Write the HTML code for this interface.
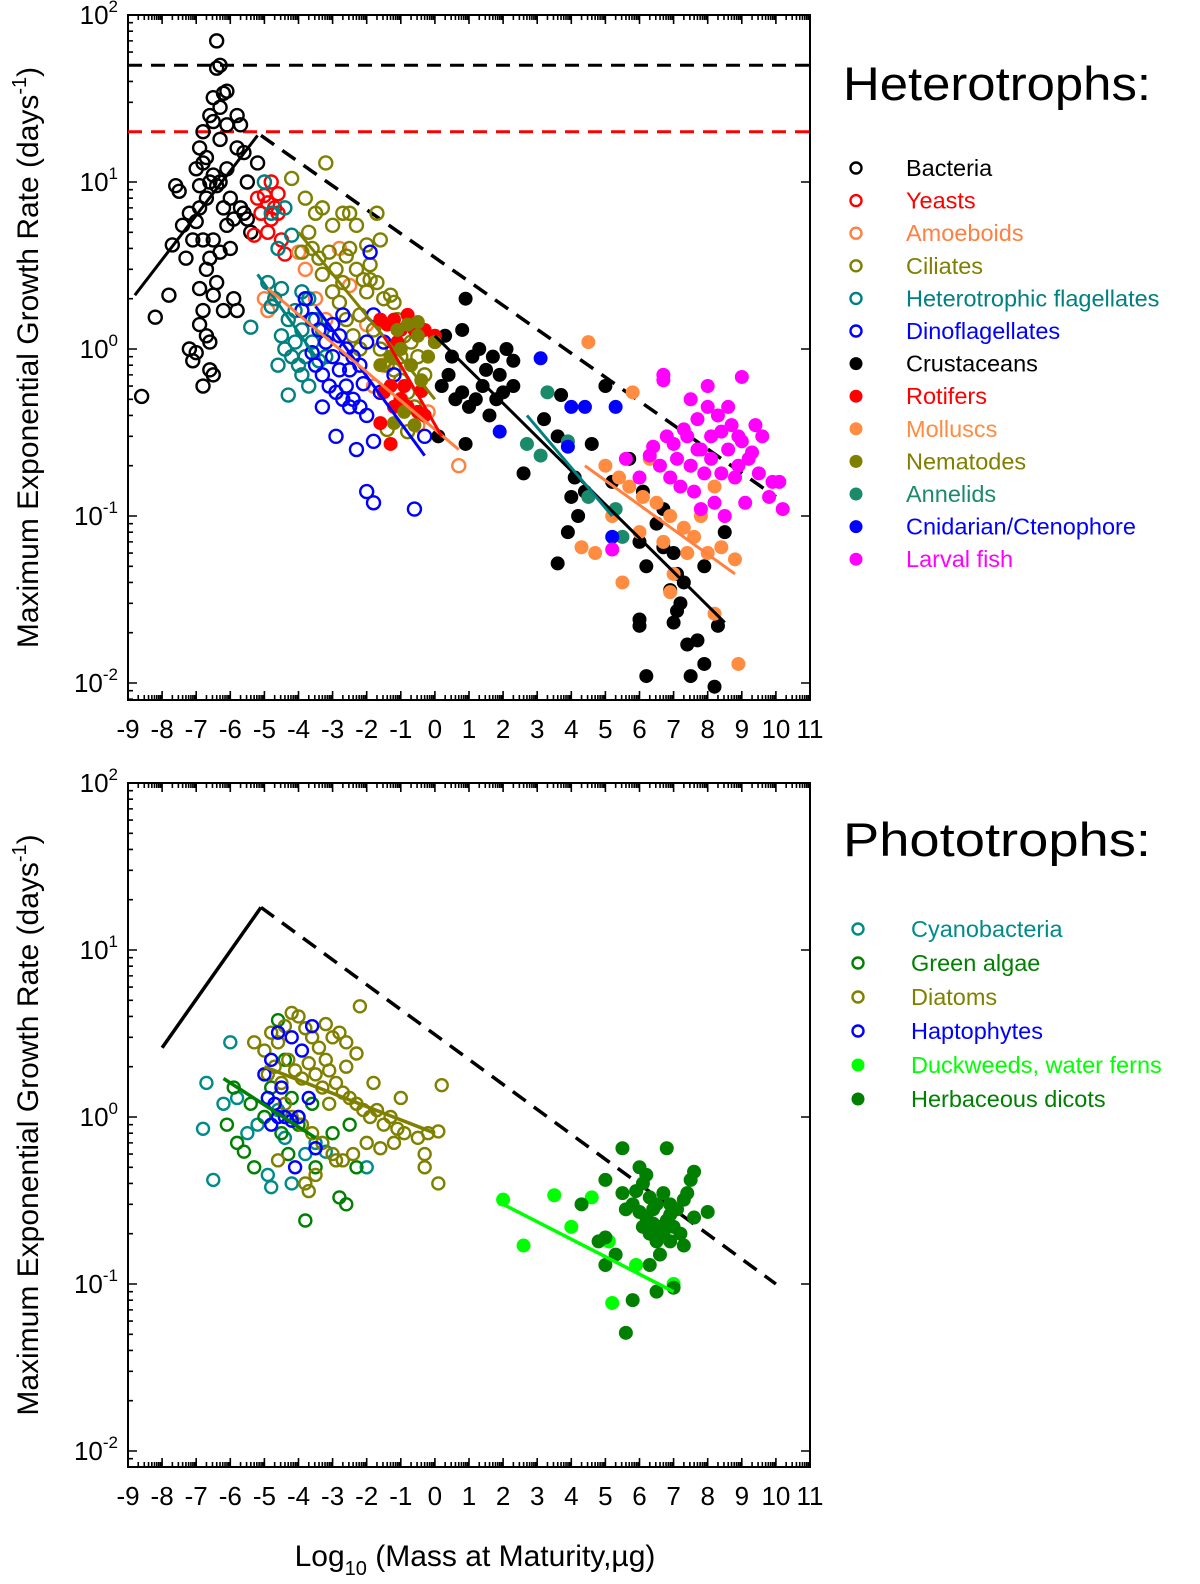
<!DOCTYPE html>
<html><head><meta charset="utf-8">
<style>
html,body{margin:0;padding:0;background:#fff;}
svg{display:block;font-family:"Liberation Sans",Arial,sans-serif;}
</style></head>
<body>
<svg id="chart" width="1200" height="1584" viewBox="0 0 1200 1584" xmlns="http://www.w3.org/2000/svg"></svg>
<script>
// ---------- DATA (log10 mass [µg], growth rate [day^-1]) ----------
const xTicks=[-9,-8,-7,-6,-5,-4,-3,-2,-1,0,1,2,3,4,5,6,7,8,9,10,11];
const yTickExps=[2,1,0,-1,-2];
const bacteria=[[-8.6,0.52],[-8.2,1.55],[-7.8,2.1],[-7.7,4.2],[-7.6,9.5],[-7.5,8.8],[-7.4,5.5],[-7.3,3.5],[-7.2,1.0],[-7.1,0.85],[-7.0,0.95],[-6.9,1.4],[-6.9,2.3],[-6.8,0.6],[-6.8,1.7],[-6.7,1.2],[-6.6,0.75],[-6.6,1.1],[-6.5,2.1],[-6.5,0.7],[-7.0,5.8],[-7.0,12],[-6.9,16],[-6.8,20],[-6.7,14],[-6.6,25],[-6.5,32],[-6.4,48],[-6.4,70],[-6.3,50],[-6.2,34],[-6.1,35],[-6.3,28],[-6.5,23],[-6.8,13],[-6.7,8],[-6.6,10],[-6.5,11],[-6.4,9.5],[-6.3,10],[-6.2,7],[-6.1,5.5],[-6.0,4],[-6.0,8],[-6.1,12],[-5.9,6],[-5.8,16],[-5.8,25],[-5.7,22],[-5.6,15],[-5.7,7],[-5.6,6.5],[-5.5,6],[-5.4,5],[-6.9,7],[-6.8,4.5],[-6.7,3],[-6.6,3.5],[-6.5,4.5],[-6.4,2.5],[-6.3,3.8],[-6.2,1.7],[-5.9,2],[-5.8,1.7],[-5.2,13],[-7.1,4.5],[-7.2,6.5],[-6.9,9.5],[-6.3,18],[-6.1,22],[-5.5,10]];
const yeasts=[[-5.2,8],[-5.0,8.3],[-4.9,7.5],[-4.8,6],[-4.8,10],[-4.7,7],[-4.6,6.5],[-5.1,6.5],[-4.9,5],[-5.3,4.8],[-4.5,4.5],[-4.6,8.5],[-4.4,3.7]];
const amoeboids=[[-5,2],[-4.9,1.7],[-4,3.8],[-3.5,2],[-2.5,2.4],[-2,1.4],[-1.5,0.8],[-1,0.5],[-0.5,0.35],[0.7,0.2],[-2.8,4],[-3.8,3],[-1.8,0.6],[-3.2,1.5],[-0.2,0.42]];
const ciliates=[[-4.2,10.5],[-3.2,13],[-3.8,8],[-3.5,6.5],[-3.3,7],[-3,5.5],[-2.7,6.5],[-2.5,6.5],[-2.3,5.5],[-1.7,6.5],[-3.6,4],[-3.4,3.5],[-3.1,3.8],[-2.9,3],[-2.7,2.5],[-2.5,4],[-2.3,3],[-2.1,2.6],[-1.9,3.2],[-1.7,2.5],[-1.5,2],[-1.3,2.1],[-1.1,1.5],[-0.9,1.2],[-0.7,1.1],[-0.5,0.9],[-0.3,0.7],[-2.8,1.9],[-2.6,1.5],[-2.4,1.2],[-2.2,1.6],[-2,2.2],[-1.8,1.3],[-1.6,1],[-1.4,0.8],[-1.2,0.75],[-1,0.65],[-0.8,0.55],[-0.6,0.45],[-3.0,2.2],[-3.3,2.8],[-2.0,4.2],[-1.6,4.5],[-1.2,1.9],[-0.8,0.32],[-1.4,0.33],[-1.9,2.6],[-2.2,1.0],[-3.7,5],[-3.9,3.8],[-2.6,3.6],[-1.0,0.9],[-0.4,1.3]];
const hetFlag=[[-5,10],[-4.8,6.5],[-4.6,4],[-4.4,7],[-4.2,4.8],[-5.4,1.35],[-4.9,2.5],[-4.7,2.0],[-4.5,1.2],[-4.3,1.5],[-4.1,1.1],[-3.9,1.3],[-4.2,0.9],[-4.0,0.8],[-3.8,0.9],[-3.6,1.1],[-3.4,0.85],[-4.4,1.0],[-4.6,0.8],[-3.9,0.7],[-3.7,0.6],[-4.3,0.53],[-3.5,1.5],[-3.3,1.3],[-4.8,1.8],[-3.7,2],[-4.1,1.7],[-3.2,0.9],[-4.5,2.3],[-3.9,2.2]];
const dinoflag=[[-3.8,2],[-3.6,1.5],[-3.4,1.3],[-3.2,1.1],[-3.0,0.9],[-2.8,0.75],[-2.6,0.6],[-2.4,0.5],[-2.2,0.45],[-2,0.4],[-3.5,0.8],[-3.3,0.7],[-3.1,0.6],[-2.9,0.55],[-2.7,0.5],[-2.5,0.45],[-3.0,1.4],[-2.8,1.2],[-2.6,1],[-2.4,0.9],[-2.2,0.8],[-2,1.1],[-1.8,1.6],[-1.9,3.8],[-1.5,1.1],[-1.2,0.7],[-2.9,0.3],[-2.3,0.25],[-1.8,0.28],[-2.0,0.14],[-1.8,0.12],[-0.6,0.11],[-0.3,0.3],[-3.3,0.45],[-2.5,0.75],[-3.6,0.95],[-2.1,0.62],[-1.6,0.55],[-2.7,1.6],[-3.9,1.7]];
const crustaceans=[[0,1.1],[0.3,1.2],[0.5,0.9],[0.8,1.3],[0.9,2],[1.1,0.9],[1.3,1.0],[1.5,0.75],[1.7,0.9],[1.9,0.7],[2.1,1.0],[2.3,0.85],[0.2,0.6],[0.4,0.7],[0.6,0.5],[0.8,0.55],[1.0,0.45],[1.2,0.5],[1.4,0.6],[1.6,0.4],[1.8,0.5],[2.0,0.55],[2.3,0.6],[0.1,0.3],[0.9,0.27],[2.6,0.18],[3.2,0.38],[3.6,0.3],[3.7,0.53],[4.0,0.13],[4.2,0.1],[3.9,0.08],[4.4,0.14],[4.6,0.27],[5.0,0.6],[5.2,0.16],[5.7,0.22],[6.0,0.07],[6.2,0.05],[6.1,0.14],[6.5,0.09],[6.7,0.065],[7.0,0.06],[7.1,0.045],[7.3,0.04],[6.0,0.024],[6.0,0.022],[6.2,0.011],[6.9,0.036],[7.0,0.023],[7.2,0.03],[7.4,0.017],[7.5,0.011],[7.7,0.018],[7.9,0.013],[8.2,0.0095],[8.3,0.022],[7.9,0.05],[7.1,0.027],[3.6,0.052],[4.1,0.17],[8.5,0.08],[6.7,0.11]];
const rotifers=[[-1.6,1.5],[-1.4,1.4],[-1.2,1.5],[-1,1.3],[-0.8,1.6],[-0.6,1.3],[-0.3,1.3],[0,1.2],[-1.5,0.55],[-1.3,0.6],[-1,0.5],[-0.8,0.45],[-0.5,0.42],[-0.3,0.4],[-1.2,0.45],[-1.6,0.36],[-1.3,0.27],[-0.9,0.6],[-0.4,0.56],[-1.1,1.1]];
const molluscs=[[4.5,1.1],[5.8,0.55],[6.3,0.22],[7.5,0.2],[5.0,0.2],[5.4,0.17],[5.7,0.15],[6.1,0.13],[6.5,0.12],[6.9,0.1],[7.3,0.085],[7.6,0.075],[8.0,0.06],[8.4,0.065],[8.8,0.055],[7.0,0.045],[6.9,0.035],[5.5,0.04],[4.3,0.065],[4.7,0.06],[5.2,0.1],[6.7,0.07],[7.8,0.1],[8.2,0.15],[8.2,0.026],[8.9,0.013],[7.4,0.06],[6.0,0.08]];
const nematodes=[[-1.1,1.3],[-0.8,1.4],[-0.5,1.2],[-1.3,0.9],[-1,1.0],[-0.7,0.8],[-0.4,0.65],[-0.2,0.9],[-1.6,0.8],[-0.9,0.42],[-0.6,0.35],[-0.5,1.45],[0,1.1],[-1.2,0.36]];
const annelids=[[2.7,0.27],[3.3,0.55],[3.9,0.28],[4.5,0.13],[5.3,0.11],[5.5,0.075],[3.1,0.23]];
const cnidarians=[[1.9,0.32],[3.1,0.88],[4.0,0.45],[4.4,0.45],[5.3,0.45],[3.9,0.26],[5.2,0.075]];
const larvalFish=[[6.7,0.65],[6.7,0.7],[8.0,0.6],[9.0,0.68],[5.2,0.063],[5.6,0.22],[6.0,0.17],[6.3,0.23],[6.6,0.2],[6.9,0.17],[7.2,0.15],[7.5,0.2],[7.8,0.25],[8.1,0.3],[8.4,0.32],[8.7,0.35],[9.0,0.28],[9.3,0.24],[9.6,0.3],[9.9,0.16],[10.1,0.16],[10.2,0.11],[9.8,0.13],[9.5,0.18],[9.2,0.22],[8.9,0.2],[8.6,0.25],[8.3,0.4],[8.0,0.45],[7.7,0.38],[7.4,0.3],[7.1,0.22],[7.6,0.14],[7.9,0.18],[8.2,0.12],[8.5,0.1],[8.8,0.17],[9.1,0.12],[7.3,0.33],[7.0,0.27],[8.1,0.22],[8.4,0.18],[7.7,0.25],[9.4,0.35],[8.6,0.45],[7.5,0.5],[8.9,0.3],[6.4,0.26],[6.8,0.3],[7.8,0.11]];
// phototrophs
const cyanobacteria=[[-6,2.8],[-6.7,1.6],[-6.5,0.42],[-6.8,0.85],[-5.5,0.8],[-4.8,0.38],[-4.9,0.45],[-4.2,0.4],[-3.5,0.7],[-5.2,0.9],[-4.4,0.75],[-3.8,0.6],[-6.2,1.2],[-5.8,1.3],[-3.2,0.62],[-2,0.5],[-4,1.0],[-4.6,1.1]];
const greenAlgae=[[-6.1,0.9],[-5.8,0.7],[-5.6,0.62],[-5.4,1.2],[-5.0,1.0],[-4.8,1.5],[-4.5,0.8],[-4.3,0.6],[-4.0,0.9],[-3.8,0.24],[-2.8,0.33],[-2.6,0.3],[-2.3,0.5],[-3.5,0.5],[-5.3,0.5],[-4.6,3.8],[-4.2,1.3],[-3.6,1.2],[-3.0,0.8],[-2.5,0.9],[-5.9,1.5],[-4.4,2.2]];
const diatoms=[[-5.3,2.8],[-5.0,2.5],[-4.8,3.2],[-4.6,2.8],[-4.4,3.5],[-4.2,4.2],[-4.0,4.0],[-3.8,3.4],[-3.6,3.0],[-3.4,2.6],[-3.2,3.6],[-3.0,3.0],[-2.8,3.2],[-2.6,2.8],[-2.2,4.6],[-4.9,1.8],[-4.7,2.0],[-4.5,1.6],[-4.3,2.2],[-4.1,1.9],[-3.9,1.7],[-3.7,2.1],[-3.5,1.8],[-3.3,1.5],[-3.1,1.9],[-2.9,1.6],[-2.7,1.4],[-2.5,1.3],[-2.3,1.2],[-2.1,1.1],[-1.9,1.0],[-1.7,1.1],[-1.5,0.9],[-1.3,1.0],[-1.1,0.85],[-0.9,0.8],[-0.5,0.75],[-0.2,0.8],[0.1,0.82],[0.2,1.55],[-0.3,0.6],[-0.3,0.5],[0.1,0.4],[-4.4,1.2],[-4.2,1.0],[-3.9,0.9],[-3.6,0.8],[-3.3,0.7],[-3.0,0.6],[-2.7,0.55],[-2.4,0.6],[-2.0,0.7],[-1.6,0.65],[-1.2,0.7],[-3.8,0.4],[-3.5,0.45],[-3.7,0.36],[-2.9,0.55],[-4.6,0.55],[-3.1,1.2],[-2.6,2.0],[-1.8,1.6],[-2.3,2.4],[-3.2,2.2],[-1.0,1.3]];
const haptophytes=[[-4.6,3.2],[-3.6,3.5],[-4.2,3.0],[-3.9,2.5],[-4.8,2.2],[-5,1.8],[-4.5,1.5],[-4.9,1.3],[-4.7,1.2],[-4.4,1.0],[-4.2,0.95],[-4.0,1.0],[-3.5,0.65],[-4.1,0.5],[-4.8,0.9],[-4.6,1.0],[-3.7,1.3]];
const duckweeds=[[2,0.32],[2.6,0.17],[3.5,0.34],[4.0,0.22],[4.6,0.33],[5.1,0.18],[5.2,0.077],[7.0,0.1],[5.9,0.13]];
const dicots=[[5.5,0.65],[6.8,0.65],[5.0,0.42],[6.0,0.5],[5.5,0.35],[5.9,0.36],[6.1,0.4],[6.3,0.33],[6.5,0.3],[6.7,0.35],[6.9,0.3],[7.1,0.28],[7.3,0.32],[7.5,0.42],[7.6,0.47],[7.4,0.35],[5.6,0.28],[5.8,0.3],[6.0,0.27],[6.2,0.25],[6.4,0.23],[6.6,0.22],[6.8,0.24],[7.0,0.22],[7.2,0.2],[6.3,0.2],[6.5,0.18],[6.7,0.2],[6.9,0.18],[6.1,0.22],[6.6,0.15],[6.3,0.13],[5.0,0.19],[4.8,0.18],[5.3,0.15],[5.0,0.13],[8.0,0.27],[7.6,0.25],[7.3,0.17],[5.8,0.08],[5.6,0.051],[6.5,0.09],[7.0,0.095],[6.9,0.26],[6.4,0.28],[6.2,0.45],[4.3,0.3]];
// fit lines
const topLinesX=[[-8.8,-5.2],[-5.2,-3.5],[-3.5,-0.3],[-4,0],[-4.9,0.7],[-1.5,0.2],[0,8.5],[4.4,8.8],[2.7,5.2]];
const topLinesY=[[2.1,19],[2.8,0.9],[1.8,0.23],[5,0.5],[2.3,0.25],[1.2,0.3],[1.2,0.023],[0.2,0.045],[0.4,0.1]];
const boundX=[-5.1,10], boundY=[19,0.13];
const hLines=[50,20];
const botLinesX=[[-8,-5.1],[-6.2,-3.5],[-5,0],[2,7]];
const botLinesY=[[2.6,18],[1.7,0.75],[2.0,0.8],[0.3,0.09]];
const botBoundX=[-5.1,10], botBoundY=[18,0.1];

// ---------- rendering ----------
const NS="http://www.w3.org/2000/svg";
const svg=document.getElementById('chart');
function el(tag,attrs,parent){const e=document.createElementNS(NS,tag);for(const k in attrs)e.setAttribute(k,attrs[k]);(parent||svg).appendChild(e);return e;}
const X0=128,X1=810;
function xs(v){return X0+(v+9)*(X1-X0)/20;}
function makeY(top){return v=>top+(2-Math.log10(v))*167;}

function axes(top,bottom,name){
  const ys=makeY(top);
  const g=el('g',{});
  
  
  const fr=el('rect',{x:X0,y:top,width:X1-X0,height:bottom-top,fill:'none',stroke:'#000','stroke-width':2},g);
  
  
  let d='';
  for(let i=0;i<xTicks.length;i++){
    const v=xTicks[i],px=xs(v);
    d+=`M${px},${bottom}v-9M${px},${top}v9`;
    if(i<xTicks.length-1){for(let m=2;m<=9;m++){const q=xs(v+Math.log10(m));d+=`M${q},${bottom}v-5M${q},${top}v5`;}}
    const t=el('text',{x:px,y:bottom+38,'text-anchor':'middle','font-size':26},g);
    t.textContent=String(v);
    
    
  }
  for(let i=0;i<yTickExps.length;i++){
    const e=yTickExps[i],py=ys(Math.pow(10,e));
    d+=`M${X0},${py}h9M${X1},${py}h-9`;
    if(i<yTickExps.length-1){for(let m=2;m<=9;m++){const q=ys(m*Math.pow(10,e-1));d+=`M${X0},${q}h5`;}}
    const t=el('text',{x:X0-10,y:py+9,'text-anchor':'end','font-size':26},g);
    
    
    const b=el('tspan',{},t);b.textContent='10';
    const s=el('tspan',{dy:-12,'font-size':17},t);s.textContent=String(e);
  }
  for(let m=2;m<=9;m++){const q=ys(m*Math.pow(10,-3));if(q<bottom)d+=`M${X0},${q}h5`;}
  const p=el('path',{d:d,stroke:'#000','stroke-width':1.6,fill:'none'},g);
  
  
  const yt=el('text',{transform:`translate(38,${(top+bottom)/2}) rotate(-90)`,'text-anchor':'middle','font-size':30},g);
  
  
  const a=el('tspan',{},yt);a.textContent='Maximum Exponential Growth Rate (days';
  const b2=el('tspan',{dy:-12,'font-size':20},yt);b2.textContent='-1';
  const c=el('tspan',{dy:12},yt);c.textContent=')';
  return ys;
}

function clipFor(top,bottom,id){
  const cp=el('clipPath',{id:id});
  el('rect',{x:X0,y:top,width:X1-X0,height:bottom-top},cp);
}

function scatter(data,ys,color,filled,r,name,clip){
  const g=el('g',{'clip-path':`url(#${clip})`});
  
  
  for(const [x,y] of data){
    const c=el('circle',{cx:xs(x),cy:ys(y),r:r,fill:filled?color:'none',stroke:color,'stroke-width':filled?0:2.4},g);
    
    
  }
}
function line(x1,y1,x2,y2,ys,color,dash,w,name,clip){
  const l=el('line',{x1:xs(x1),y1:ys(y1),x2:xs(x2),y2:ys(y2),stroke:color,'stroke-width':w,'clip-path':`url(#${clip})`});
  if(dash)l.setAttribute('stroke-dasharray',dash);
  
  
}

// top panel
const TT=15,TB=700;
clipFor(TT,TB,'clipTop');
const yT=axes(TT,TB,'heterotroph-panel');
const topColors=['#000','#008080','#0000ff','#808000','#ff8040','#ff0000','#000','#ff8040','#008080'];
line(-9,hLines[0],11,hLines[0],yT,'#000','14,9',3,'upper-limit-line-black','clipTop');
line(-9,hLines[1],11,hLines[1],yT,'#ff0000','14,9',3,'upper-limit-line-red','clipTop');
line(boundX[0],boundY[0],boundX[1],boundY[1],yT,'#000','16,10',3.5,'max-bound-dashed-line','clipTop');
scatter(bacteria,yT,'#000',false,6.5,'bacteria','clipTop');
scatter(yeasts,yT,'#ff0000',false,6.5,'yeasts','clipTop');
scatter(amoeboids,yT,'#ff8040',false,6.5,'amoeboids','clipTop');
scatter(ciliates,yT,'#808000',false,6.5,'ciliates','clipTop');
scatter(hetFlag,yT,'#008080',false,6.5,'heterotrophic-flagellates','clipTop');
scatter(dinoflag,yT,'#0000ff',false,6.5,'dinoflagellates','clipTop');
scatter(crustaceans,yT,'#000',true,7,'crustaceans','clipTop');
scatter(rotifers,yT,'#ff0000',true,7,'rotifers','clipTop');
scatter(molluscs,yT,'#ff8c40',true,7,'molluscs','clipTop');
scatter(nematodes,yT,'#808000',true,7,'nematodes','clipTop');
scatter(annelids,yT,'#1a8a6a',true,7,'annelids','clipTop');
scatter(cnidarians,yT,'#0000ff',true,7,'cnidarians','clipTop');
scatter(larvalFish,yT,'#ff00ff',true,7,'larval-fish','clipTop');
for(let i=0;i<topLinesX.length;i++){
  line(topLinesX[i][0],topLinesY[i][0],topLinesX[i][1],topLinesY[i][1],yT,topColors[i],null,3,'fit-line-'+i,'clipTop');
}

// bottom panel
const BT=783,BB=1467;
clipFor(BT,BB,'clipBot');
const yB=axes(BT,BB,'phototroph-panel');
const botColors=['#000','#008000','#808000','#00ff00'];
line(botBoundX[0],botBoundY[0],botBoundX[1],botBoundY[1],yB,'#000','16,10',3.5,'max-bound-dashed-line-bottom','clipBot');
scatter(cyanobacteria,yB,'#008b8b',false,6,'cyanobacteria','clipBot');
scatter(greenAlgae,yB,'#008000',false,6,'green-algae','clipBot');
scatter(diatoms,yB,'#808000',false,6,'diatoms','clipBot');
scatter(haptophytes,yB,'#0000ff',false,6,'haptophytes','clipBot');
scatter(duckweeds,yB,'#00ff00',true,7,'duckweeds','clipBot');
scatter(dicots,yB,'#007f00',true,7,'herbaceous-dicots','clipBot');
for(let i=0;i<botLinesX.length;i++){
  line(botLinesX[i][0],botLinesY[i][0],botLinesX[i][1],botLinesY[i][1],yB,botColors[i],null,3.5,'fit-line-bottom-'+i,'clipBot');
}

// x axis title
const xt=el('text',{x:475,y:1566,'text-anchor':'middle','font-size':30});


const t1=el('tspan',{},xt);t1.textContent='Log';
const t2=el('tspan',{dy:9,'font-size':20},xt);t2.textContent='10';
const t3=el('tspan',{dy:-9},xt);t3.textContent=' (Mass at Maturity,\u00b5g)';

// legends
function legend(title,ty,items,y0,dy,mx,tx,name){
  const g=el('g',{});
  
  
  const t=el('text',{x:843,y:ty,'font-size':47,textLength:308,lengthAdjust:'spacingAndGlyphs'},g);
  t.textContent=title;
  
  
  items.forEach((it,i)=>{
    const y=y0+i*dy;
    const c=el('circle',{cx:mx,cy:y,r:it[2]?6.5:5.5,fill:it[2]?it[1]:'none',stroke:it[1],'stroke-width':it[2]?0:2.4},g);
    
    
    const tx2=el('text',{x:tx,y:y+8,'font-size':23.5,fill:it[1]},g);
    tx2.textContent=it[0];
    
    
  });
}
legend('Heterotrophs:',100,[['Bacteria','#000',0],['Yeasts','#ff0000',0],['Amoeboids','#ff8040',0],['Ciliates','#808000',0],['Heterotrophic flagellates','#008080',0],['Dinoflagellates','#0000ff',0],['Crustaceans','#000',1],['Rotifers','#ff0000',1],['Molluscs','#ff8c40',1],['Nematodes','#808000',1],['Annelids','#1a8a6a',1],['Cnidarian/Ctenophore','#0000ff',1],['Larval fish','#ff00ff',1]],168,32.6,856,906,'heterotroph-legend');
legend('Phototrophs:',856,[['Cyanobacteria','#008b8b',0],['Green algae','#008000',0],['Diatoms','#808000',0],['Haptophytes','#0000ff',0],['Duckweeds, water ferns','#00ff00',1],['Herbaceous dicots','#007f00',1]],929,34,858,911,'phototroph-legend');
</script>
</body></html>
